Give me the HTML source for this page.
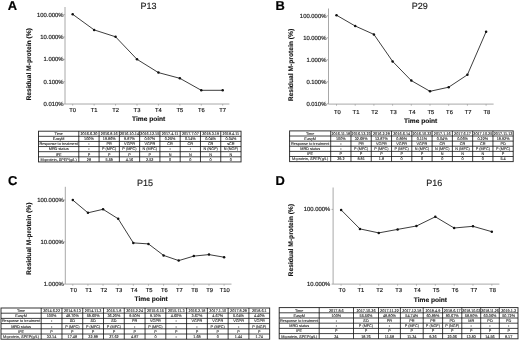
<!DOCTYPE html><html><head><meta charset="utf-8"><title>Residual M-protein</title><style>
html,body{margin:0;padding:0;background:#fff;width:520px;height:340px;overflow:hidden}
svg{display:block}
text{font-family:'Liberation Sans', Arial, sans-serif;fill:#1a1a1a;text-rendering:geometricPrecision}
.lt{font-size:12.9px;font-weight:bold;fill:#000;stroke:#000;stroke-width:0.2px}
.ti{font-size:9px;fill:#1a1a1a;stroke:#1a1a1a;stroke-width:0.15px}
.ax{stroke:#a8a8a8;stroke-width:1;fill:none}
.yt{font-size:5.9px;text-anchor:end;fill:#222;stroke:#222;stroke-width:0.18px}
.xt{font-size:5.8px;text-anchor:middle;fill:#111;stroke:#111;stroke-width:0.15px}
.dl{stroke:#333;stroke-width:0.95;fill:none;stroke-linejoin:round}
.dot{fill:#111}
.tp{font-size:6.6px;font-weight:bold;text-anchor:middle;fill:#111;stroke:#111;stroke-width:0.12px}
.yl{font-size:6.7px;font-weight:bold;text-anchor:middle;fill:#111;stroke:#111;stroke-width:0.12px}
.tb{fill:#fff;stroke:#2a2a2a;stroke-width:0.95}
.tl{stroke:#111;stroke-width:0.8}
.td{font-size:3.8px;text-anchor:middle;fill:#1a1a1a;stroke:#1a1a1a;stroke-width:0.08px}
</style></head><body>
<svg width="520" height="340" viewBox="0 0 520 340">
<text x="7.7" y="10.2" class="lt">A</text>
<text x="140.6" y="9.3" class="ti">P13</text>
<line x1="65.0" y1="7" x2="65.0" y2="104" class="ax"/>
<line x1="65.0" y1="104" x2="229.4" y2="104" class="ax"/>
<line x1="63.5" y1="14.6" x2="65.0" y2="14.6" class="ax"/>
<text x="63.50" y="16.70" class="yt">100.000%</text>
<line x1="63.5" y1="36.95" x2="65.0" y2="36.95" class="ax"/>
<text x="63.50" y="39.05" class="yt">10.000%</text>
<line x1="63.5" y1="59.300000000000004" x2="65.0" y2="59.300000000000004" class="ax"/>
<text x="63.50" y="61.40" class="yt">1.000%</text>
<line x1="63.5" y1="81.65" x2="65.0" y2="81.65" class="ax"/>
<text x="63.50" y="83.75" class="yt">0.100%</text>
<line x1="63.5" y1="104.0" x2="65.0" y2="104.0" class="ax"/>
<text x="63.50" y="106.10" class="yt">0.010%</text>
<line x1="72.7" y1="104" x2="72.7" y2="105.5" class="ax"/>
<text x="72.70" y="112.00" class="xt">T0</text>
<line x1="94.13" y1="104" x2="94.13" y2="105.5" class="ax"/>
<text x="94.13" y="112.00" class="xt">T1</text>
<line x1="115.56" y1="104" x2="115.56" y2="105.5" class="ax"/>
<text x="115.56" y="112.00" class="xt">T2</text>
<line x1="136.99" y1="104" x2="136.99" y2="105.5" class="ax"/>
<text x="136.99" y="112.00" class="xt">T3</text>
<line x1="158.42000000000002" y1="104" x2="158.42000000000002" y2="105.5" class="ax"/>
<text x="158.42" y="112.00" class="xt">T4</text>
<line x1="179.85000000000002" y1="104" x2="179.85000000000002" y2="105.5" class="ax"/>
<text x="179.85" y="112.00" class="xt">T5</text>
<line x1="201.27999999999997" y1="104" x2="201.27999999999997" y2="105.5" class="ax"/>
<text x="201.28" y="112.00" class="xt">T6</text>
<line x1="222.70999999999998" y1="104" x2="222.70999999999998" y2="105.5" class="ax"/>
<text x="222.71" y="112.00" class="xt">T7</text>
<polyline points="72.70,14.30 94.13,29.90 115.56,36.80 136.99,59.30 158.42,72.60 179.85,78.30 201.28,90.30 222.71,90.30" class="dl"/>
<circle cx="72.70" cy="14.30" r="1.25" class="dot"/>
<circle cx="94.13" cy="29.90" r="1.25" class="dot"/>
<circle cx="115.56" cy="36.80" r="1.25" class="dot"/>
<circle cx="136.99" cy="59.30" r="1.25" class="dot"/>
<circle cx="158.42" cy="72.60" r="1.25" class="dot"/>
<circle cx="179.85" cy="78.30" r="1.25" class="dot"/>
<circle cx="201.28" cy="90.30" r="1.25" class="dot"/>
<circle cx="222.71" cy="90.30" r="1.25" class="dot"/>
<text x="148.7" y="121.2" class="tp">Time point</text>
<text transform="translate(30.6,64.4) rotate(-90)" x="0" y="0" class="yl">Residual M-protein (%)</text>
<text x="275.4" y="10.3" class="lt">B</text>
<text x="411.7" y="9.0" class="ti">P29</text>
<line x1="328.5" y1="8.5" x2="328.5" y2="104.1" class="ax"/>
<line x1="328.5" y1="104.1" x2="493.6" y2="104.1" class="ax"/>
<line x1="327.0" y1="15.8" x2="328.5" y2="15.8" class="ax"/>
<text x="326.40" y="18.30" class="yt">100.000%</text>
<line x1="327.0" y1="37.8" x2="328.5" y2="37.8" class="ax"/>
<text x="326.40" y="40.30" class="yt">10.000%</text>
<line x1="327.0" y1="59.8" x2="328.5" y2="59.8" class="ax"/>
<text x="326.40" y="62.30" class="yt">1.000%</text>
<line x1="327.0" y1="81.8" x2="328.5" y2="81.8" class="ax"/>
<text x="326.40" y="84.30" class="yt">0.100%</text>
<line x1="327.0" y1="103.8" x2="328.5" y2="103.8" class="ax"/>
<text x="326.40" y="106.30" class="yt">0.010%</text>
<line x1="336.5" y1="104.1" x2="336.5" y2="105.6" class="ax"/>
<text x="337.30" y="113.80" class="xt">T0</text>
<line x1="355.2" y1="104.1" x2="355.2" y2="105.6" class="ax"/>
<text x="356.00" y="113.80" class="xt">T1</text>
<line x1="373.9" y1="104.1" x2="373.9" y2="105.6" class="ax"/>
<text x="374.70" y="113.80" class="xt">T2</text>
<line x1="392.6" y1="104.1" x2="392.6" y2="105.6" class="ax"/>
<text x="393.40" y="113.80" class="xt">T3</text>
<line x1="411.3" y1="104.1" x2="411.3" y2="105.6" class="ax"/>
<text x="412.10" y="113.80" class="xt">T4</text>
<line x1="430.0" y1="104.1" x2="430.0" y2="105.6" class="ax"/>
<text x="430.80" y="113.80" class="xt">T5</text>
<line x1="448.7" y1="104.1" x2="448.7" y2="105.6" class="ax"/>
<text x="449.50" y="113.80" class="xt">T6</text>
<line x1="467.4" y1="104.1" x2="467.4" y2="105.6" class="ax"/>
<text x="468.20" y="113.80" class="xt">T7</text>
<line x1="486.1" y1="104.1" x2="486.1" y2="105.6" class="ax"/>
<text x="486.90" y="113.80" class="xt">T8</text>
<polyline points="336.50,15.20 355.20,26.00 373.90,34.40 392.60,61.40 411.30,80.60 430.00,91.30 448.70,87.20 467.40,74.80 486.10,31.70" class="dl"/>
<circle cx="336.50" cy="15.20" r="1.25" class="dot"/>
<circle cx="355.20" cy="26.00" r="1.25" class="dot"/>
<circle cx="373.90" cy="34.40" r="1.25" class="dot"/>
<circle cx="392.60" cy="61.40" r="1.25" class="dot"/>
<circle cx="411.30" cy="80.60" r="1.25" class="dot"/>
<circle cx="430.00" cy="91.30" r="1.25" class="dot"/>
<circle cx="448.70" cy="87.20" r="1.25" class="dot"/>
<circle cx="467.40" cy="74.80" r="1.25" class="dot"/>
<circle cx="486.10" cy="31.70" r="1.25" class="dot"/>
<text x="420.7" y="123.0" class="tp">Time point</text>
<text transform="translate(292.8,65.1) rotate(-90)" x="0" y="0" class="yl">Residual M-protein (%)</text>
<text x="7.9" y="184.6" class="lt">C</text>
<text x="136.9" y="185.9" class="ti">P15</text>
<line x1="65.3" y1="186.8" x2="65.3" y2="284.1" class="ax"/>
<line x1="65.3" y1="284.1" x2="231.5" y2="284.1" class="ax"/>
<line x1="63.8" y1="200.0" x2="65.3" y2="200.0" class="ax"/>
<text x="63.70" y="202.00" class="yt">100.000%</text>
<line x1="63.8" y1="241.9" x2="65.3" y2="241.9" class="ax"/>
<text x="63.70" y="243.90" class="yt">10.000%</text>
<line x1="63.8" y1="284.1" x2="65.3" y2="284.1" class="ax"/>
<text x="63.70" y="286.10" class="yt">1.000%</text>
<line x1="72.8" y1="284.1" x2="72.8" y2="285.6" class="ax"/>
<text x="73.50" y="292.10" class="xt">T0</text>
<line x1="87.92999999999999" y1="284.1" x2="87.92999999999999" y2="285.6" class="ax"/>
<text x="88.63" y="292.10" class="xt">T1</text>
<line x1="103.06" y1="284.1" x2="103.06" y2="285.6" class="ax"/>
<text x="103.76" y="292.10" class="xt">T2</text>
<line x1="118.19" y1="284.1" x2="118.19" y2="285.6" class="ax"/>
<text x="118.89" y="292.10" class="xt">T3</text>
<line x1="133.32" y1="284.1" x2="133.32" y2="285.6" class="ax"/>
<text x="134.02" y="292.10" class="xt">T4</text>
<line x1="148.45" y1="284.1" x2="148.45" y2="285.6" class="ax"/>
<text x="149.15" y="292.10" class="xt">T5</text>
<line x1="163.57999999999998" y1="284.1" x2="163.57999999999998" y2="285.6" class="ax"/>
<text x="164.28" y="292.10" class="xt">T6</text>
<line x1="178.71" y1="284.1" x2="178.71" y2="285.6" class="ax"/>
<text x="179.41" y="292.10" class="xt">T7</text>
<line x1="193.84" y1="284.1" x2="193.84" y2="285.6" class="ax"/>
<text x="194.54" y="292.10" class="xt">T8</text>
<line x1="208.97000000000003" y1="284.1" x2="208.97000000000003" y2="285.6" class="ax"/>
<text x="209.67" y="292.10" class="xt">T9</text>
<line x1="224.10000000000002" y1="284.1" x2="224.10000000000002" y2="285.6" class="ax"/>
<text x="224.80" y="292.10" class="xt">T10</text>
<polyline points="72.80,200.10 87.93,212.80 103.06,209.30 118.19,218.80 133.32,242.90 148.45,243.90 163.58,255.40 178.71,260.60 193.84,256.10 208.97,254.60 224.10,257.20" class="dl"/>
<circle cx="72.80" cy="200.10" r="1.25" class="dot"/>
<circle cx="87.93" cy="212.80" r="1.25" class="dot"/>
<circle cx="103.06" cy="209.30" r="1.25" class="dot"/>
<circle cx="118.19" cy="218.80" r="1.25" class="dot"/>
<circle cx="133.32" cy="242.90" r="1.25" class="dot"/>
<circle cx="148.45" cy="243.90" r="1.25" class="dot"/>
<circle cx="163.58" cy="255.40" r="1.25" class="dot"/>
<circle cx="178.71" cy="260.60" r="1.25" class="dot"/>
<circle cx="193.84" cy="256.10" r="1.25" class="dot"/>
<circle cx="208.97" cy="254.60" r="1.25" class="dot"/>
<circle cx="224.10" cy="257.20" r="1.25" class="dot"/>
<text x="151.2" y="300.5" class="tp">Time point</text>
<text transform="translate(31.1,238.7) rotate(-90)" x="0" y="0" class="yl">Residual M-protein (%)</text>
<text x="275.4" y="184.9" class="lt">D</text>
<text x="426.3" y="185.9" class="ti">P16</text>
<line x1="333.1" y1="187.5" x2="333.1" y2="284.1" class="ax"/>
<line x1="333.1" y1="284.1" x2="499.4" y2="284.1" class="ax"/>
<line x1="331.6" y1="209.4" x2="333.1" y2="209.4" class="ax"/>
<text x="330.30" y="211.45" class="yt">100.000%</text>
<line x1="331.6" y1="284.1" x2="333.1" y2="284.1" class="ax"/>
<text x="330.30" y="286.15" class="yt">10.000%</text>
<line x1="341.1" y1="284.1" x2="341.1" y2="285.6" class="ax"/>
<text x="342.00" y="292.40" class="xt">T0</text>
<line x1="359.94" y1="284.1" x2="359.94" y2="285.6" class="ax"/>
<text x="360.84" y="292.40" class="xt">T1</text>
<line x1="378.78000000000003" y1="284.1" x2="378.78000000000003" y2="285.6" class="ax"/>
<text x="379.68" y="292.40" class="xt">T2</text>
<line x1="397.62" y1="284.1" x2="397.62" y2="285.6" class="ax"/>
<text x="398.52" y="292.40" class="xt">T3</text>
<line x1="416.46000000000004" y1="284.1" x2="416.46000000000004" y2="285.6" class="ax"/>
<text x="417.36" y="292.40" class="xt">T4</text>
<line x1="435.3" y1="284.1" x2="435.3" y2="285.6" class="ax"/>
<text x="436.20" y="292.40" class="xt">T5</text>
<line x1="454.14" y1="284.1" x2="454.14" y2="285.6" class="ax"/>
<text x="455.04" y="292.40" class="xt">T6</text>
<line x1="472.98" y1="284.1" x2="472.98" y2="285.6" class="ax"/>
<text x="473.88" y="292.40" class="xt">T7</text>
<line x1="491.82000000000005" y1="284.1" x2="491.82000000000005" y2="285.6" class="ax"/>
<text x="492.72" y="292.40" class="xt">T8</text>
<polyline points="341.10,209.90 359.94,228.90 378.78,232.90 397.62,229.40 416.46,226.00 435.30,216.80 454.14,228.00 472.98,226.30 491.82,231.70" class="dl"/>
<circle cx="341.10" cy="209.90" r="1.25" class="dot"/>
<circle cx="359.94" cy="228.90" r="1.25" class="dot"/>
<circle cx="378.78" cy="232.90" r="1.25" class="dot"/>
<circle cx="397.62" cy="229.40" r="1.25" class="dot"/>
<circle cx="416.46" cy="226.00" r="1.25" class="dot"/>
<circle cx="435.30" cy="216.80" r="1.25" class="dot"/>
<circle cx="454.14" cy="228.00" r="1.25" class="dot"/>
<circle cx="472.98" cy="226.30" r="1.25" class="dot"/>
<circle cx="491.82" cy="231.70" r="1.25" class="dot"/>
<text x="430.4" y="301.5" class="tp">Time point</text>
<text transform="translate(293.4,240.2) rotate(-90)" x="0" y="0" class="yl">Residual M-protein (%)</text>
<rect x="38.5" y="131.2" width="202.54000000000002" height="30.72" class="tb"/>
<line x1="38.5" y1="136.32" x2="241.04000000000002" y2="136.32" class="tl"/>
<line x1="38.5" y1="141.44" x2="241.04000000000002" y2="141.44" class="tl"/>
<line x1="38.5" y1="146.56" x2="241.04000000000002" y2="146.56" class="tl"/>
<line x1="38.5" y1="151.68" x2="241.04000000000002" y2="151.68" class="tl"/>
<line x1="38.5" y1="156.80" x2="241.04000000000002" y2="156.80" class="tl"/>
<line x1="78.80" y1="131.2" x2="78.80" y2="161.92" class="tl"/>
<line x1="99.08" y1="131.2" x2="99.08" y2="161.92" class="tl"/>
<line x1="119.36" y1="131.2" x2="119.36" y2="161.92" class="tl"/>
<line x1="139.64" y1="131.2" x2="139.64" y2="161.92" class="tl"/>
<line x1="159.92" y1="131.2" x2="159.92" y2="161.92" class="tl"/>
<line x1="180.20" y1="131.2" x2="180.20" y2="161.92" class="tl"/>
<line x1="200.48" y1="131.2" x2="200.48" y2="161.92" class="tl"/>
<line x1="220.76" y1="131.2" x2="220.76" y2="161.92" class="tl"/>
<text x="58.65" y="135.06" class="td">Time</text>
<text x="88.94" y="135.06" class="td">2016.6.20</text>
<text x="109.22" y="135.06" class="td">2016.8.16</text>
<text x="129.50" y="135.06" class="td">2016.10.14</text>
<text x="149.78" y="135.06" class="td">2016.12.15</text>
<text x="170.06" y="135.06" class="td">2017.4.11</text>
<text x="190.34" y="135.06" class="td">2017.7.07</text>
<text x="210.62" y="135.06" class="td">2018.3.19</text>
<text x="230.90" y="135.06" class="td">2018.4.11</text>
<text x="58.65" y="140.18" class="td">EasyM</text>
<text x="88.94" y="140.18" class="td">100%</text>
<text x="109.22" y="140.18" class="td">19.86%</text>
<text x="129.50" y="140.18" class="td">9.87%</text>
<text x="149.78" y="140.18" class="td">0.97%</text>
<text x="170.06" y="140.18" class="td">0.25%</text>
<text x="190.34" y="140.18" class="td">0.14%</text>
<text x="210.62" y="140.18" class="td">0.04%</text>
<text x="230.90" y="140.18" class="td">0.04%</text>
<text x="58.65" y="145.30" class="td">Response to treatment</text>
<text x="88.94" y="145.30" class="td">-</text>
<text x="109.22" y="145.30" class="td">PR</text>
<text x="129.50" y="145.30" class="td">VGPR</text>
<text x="149.78" y="145.30" class="td">VGPR</text>
<text x="170.06" y="145.30" class="td">CR</text>
<text x="190.34" y="145.30" class="td">CR</text>
<text x="210.62" y="145.30" class="td">CR</text>
<text x="230.90" y="145.30" class="td">sCR</text>
<text x="58.65" y="150.42" class="td">MRD status</text>
<text x="88.94" y="150.42" class="td">-</text>
<text x="109.22" y="150.42" class="td">P (MFC)</text>
<text x="129.50" y="150.42" class="td">P (MFC)</text>
<text x="149.78" y="150.42" class="td">N (MFC)</text>
<text x="170.06" y="150.42" class="td">-</text>
<text x="190.34" y="150.42" class="td">-</text>
<text x="210.62" y="150.42" class="td">N (NGF)</text>
<text x="230.90" y="150.42" class="td">N (NGF)</text>
<text x="58.65" y="155.54" class="td">IFE</text>
<text x="88.94" y="155.54" class="td">P</text>
<text x="109.22" y="155.54" class="td">P</text>
<text x="129.50" y="155.54" class="td">P</text>
<text x="149.78" y="155.54" class="td">P</text>
<text x="170.06" y="155.54" class="td">N</text>
<text x="190.34" y="155.54" class="td">N</text>
<text x="210.62" y="155.54" class="td">N</text>
<text x="230.90" y="155.54" class="td">N</text>
<text x="58.65" y="160.66" class="td">M-protein, SPEP(g/L)</text>
<text x="88.94" y="160.66" class="td">28</text>
<text x="109.22" y="160.66" class="td">5.59</text>
<text x="129.50" y="160.66" class="td">4.16</text>
<text x="149.78" y="160.66" class="td">2.52</text>
<text x="170.06" y="160.66" class="td">0</text>
<text x="190.34" y="160.66" class="td">0</text>
<text x="210.62" y="160.66" class="td">0</text>
<text x="230.90" y="160.66" class="td">0</text>
<rect x="289.6" y="130.9" width="223.62" height="30.72" class="tb"/>
<line x1="289.6" y1="136.02" x2="513.22" y2="136.02" class="tl"/>
<line x1="289.6" y1="141.14" x2="513.22" y2="141.14" class="tl"/>
<line x1="289.6" y1="146.26" x2="513.22" y2="146.26" class="tl"/>
<line x1="289.6" y1="151.38" x2="513.22" y2="151.38" class="tl"/>
<line x1="289.6" y1="156.50" x2="513.22" y2="156.50" class="tl"/>
<line x1="330.70" y1="130.9" x2="330.70" y2="161.62" class="tl"/>
<line x1="350.98" y1="130.9" x2="350.98" y2="161.62" class="tl"/>
<line x1="371.26" y1="130.9" x2="371.26" y2="161.62" class="tl"/>
<line x1="391.54" y1="130.9" x2="391.54" y2="161.62" class="tl"/>
<line x1="411.82" y1="130.9" x2="411.82" y2="161.62" class="tl"/>
<line x1="432.10" y1="130.9" x2="432.10" y2="161.62" class="tl"/>
<line x1="452.38" y1="130.9" x2="452.38" y2="161.62" class="tl"/>
<line x1="472.66" y1="130.9" x2="472.66" y2="161.62" class="tl"/>
<line x1="492.94" y1="130.9" x2="492.94" y2="161.62" class="tl"/>
<text x="310.15" y="134.76" class="td">Time</text>
<text x="340.84" y="134.76" class="td">2016.11.18</text>
<text x="361.12" y="134.76" class="td">2016.12.23</text>
<text x="381.40" y="134.76" class="td">2016.2.28</text>
<text x="401.68" y="134.76" class="td">2016.6.14</text>
<text x="421.96" y="134.76" class="td">2016.10.23</text>
<text x="442.24" y="134.76" class="td">2017.1.16</text>
<text x="462.52" y="134.76" class="td">2017.6.17</text>
<text x="482.80" y="134.76" class="td">2017.10.25</text>
<text x="503.08" y="134.76" class="td">2017.11.13</text>
<text x="310.15" y="139.88" class="td">EasyM</text>
<text x="340.84" y="139.88" class="td">100%</text>
<text x="361.12" y="139.88" class="td">32.69%</text>
<text x="381.40" y="139.88" class="td">13.87%</text>
<text x="401.68" y="139.88" class="td">0.89%</text>
<text x="421.96" y="139.88" class="td">0.11%</text>
<text x="442.24" y="139.88" class="td">0.04%</text>
<text x="462.52" y="139.88" class="td">0.06%</text>
<text x="482.80" y="139.88" class="td">0.22%</text>
<text x="503.08" y="139.88" class="td">18.92%</text>
<text x="310.15" y="145.00" class="td">Response to treatment</text>
<text x="340.84" y="145.00" class="td">-</text>
<text x="361.12" y="145.00" class="td">PR</text>
<text x="381.40" y="145.00" class="td">VGPR</text>
<text x="401.68" y="145.00" class="td">VGPR</text>
<text x="421.96" y="145.00" class="td">VGPR</text>
<text x="442.24" y="145.00" class="td">CR</text>
<text x="462.52" y="145.00" class="td">CR</text>
<text x="482.80" y="145.00" class="td">CR</text>
<text x="503.08" y="145.00" class="td">PD</text>
<text x="310.15" y="150.12" class="td">MRD status</text>
<text x="340.84" y="150.12" class="td">-</text>
<text x="361.12" y="150.12" class="td">P (MFC)</text>
<text x="381.40" y="150.12" class="td">P (MFC)</text>
<text x="401.68" y="150.12" class="td">P (MFC)</text>
<text x="421.96" y="150.12" class="td">N (MFC)</text>
<text x="442.24" y="150.12" class="td">N (MFC)</text>
<text x="462.52" y="150.12" class="td">N (MFC)</text>
<text x="482.80" y="150.12" class="td">P (MFC)</text>
<text x="503.08" y="150.12" class="td">P (MFC)</text>
<text x="310.15" y="155.24" class="td">IFE</text>
<text x="340.84" y="155.24" class="td">P</text>
<text x="361.12" y="155.24" class="td">P</text>
<text x="381.40" y="155.24" class="td">P</text>
<text x="401.68" y="155.24" class="td">P</text>
<text x="421.96" y="155.24" class="td">P</text>
<text x="442.24" y="155.24" class="td">N</text>
<text x="462.52" y="155.24" class="td">N</text>
<text x="482.80" y="155.24" class="td">N</text>
<text x="503.08" y="155.24" class="td">P</text>
<text x="310.15" y="160.36" class="td">M-protein, SPEP(g/L)</text>
<text x="340.84" y="160.36" class="td">29.2</text>
<text x="361.12" y="160.36" class="td">8.81</text>
<text x="381.40" y="160.36" class="td">1.8</text>
<text x="401.68" y="160.36" class="td">0</text>
<text x="421.96" y="160.36" class="td">0</text>
<text x="442.24" y="160.36" class="td">0</text>
<text x="462.52" y="160.36" class="td">0</text>
<text x="482.80" y="160.36" class="td">0</text>
<text x="503.08" y="160.36" class="td">5.4</text>
<rect x="1.0" y="308.0" width="268.67" height="31.19999999999999" class="tb"/>
<line x1="1.0" y1="313.20" x2="269.67" y2="313.20" class="tl"/>
<line x1="1.0" y1="318.40" x2="269.67" y2="318.40" class="tl"/>
<line x1="1.0" y1="323.60" x2="269.67" y2="323.60" class="tl"/>
<line x1="1.0" y1="328.80" x2="269.67" y2="328.80" class="tl"/>
<line x1="1.0" y1="334.00" x2="269.67" y2="334.00" class="tl"/>
<line x1="41.20" y1="308.0" x2="41.20" y2="339.20" class="tl"/>
<line x1="61.97" y1="308.0" x2="61.97" y2="339.20" class="tl"/>
<line x1="82.74" y1="308.0" x2="82.74" y2="339.20" class="tl"/>
<line x1="103.51" y1="308.0" x2="103.51" y2="339.20" class="tl"/>
<line x1="124.28" y1="308.0" x2="124.28" y2="339.20" class="tl"/>
<line x1="145.05" y1="308.0" x2="145.05" y2="339.20" class="tl"/>
<line x1="165.82" y1="308.0" x2="165.82" y2="339.20" class="tl"/>
<line x1="186.59" y1="308.0" x2="186.59" y2="339.20" class="tl"/>
<line x1="207.36" y1="308.0" x2="207.36" y2="339.20" class="tl"/>
<line x1="228.13" y1="308.0" x2="228.13" y2="339.20" class="tl"/>
<line x1="248.90" y1="308.0" x2="248.90" y2="339.20" class="tl"/>
<text x="21.10" y="311.90" class="td">Time</text>
<text x="51.59" y="311.90" class="td">2014.6.22</text>
<text x="72.36" y="311.90" class="td">2014.8.13</text>
<text x="93.12" y="311.90" class="td">2014.11.3</text>
<text x="113.90" y="311.90" class="td">2015.1.8</text>
<text x="134.67" y="311.90" class="td">2015.2.24</text>
<text x="155.44" y="311.90" class="td">2015.6.15</text>
<text x="176.20" y="311.90" class="td">2015.11.3</text>
<text x="196.97" y="311.90" class="td">2016.2.18</text>
<text x="217.75" y="311.90" class="td">2017.1.10</text>
<text x="238.51" y="311.90" class="td">2017.8.28</text>
<text x="259.28" y="311.90" class="td">2018.6.1</text>
<text x="21.10" y="317.10" class="td">EasyM</text>
<text x="51.59" y="317.10" class="td">100%</text>
<text x="72.36" y="317.10" class="td">48.70%</text>
<text x="93.12" y="317.10" class="td">59.60%</text>
<text x="113.90" y="317.10" class="td">36.20%</text>
<text x="134.67" y="317.10" class="td">9.50%</text>
<text x="155.44" y="317.10" class="td">9.10%</text>
<text x="176.20" y="317.10" class="td">4.60%</text>
<text x="196.97" y="317.10" class="td">3.67%</text>
<text x="217.75" y="317.10" class="td">4.67%</text>
<text x="238.51" y="317.10" class="td">5.04%</text>
<text x="259.28" y="317.10" class="td">4.40%</text>
<text x="21.10" y="322.30" class="td">Response to treatment</text>
<text x="51.59" y="322.30" class="td">-</text>
<text x="72.36" y="322.30" class="td">SD</text>
<text x="93.12" y="322.30" class="td">SD</text>
<text x="113.90" y="322.30" class="td">SD</text>
<text x="134.67" y="322.30" class="td">PR</text>
<text x="155.44" y="322.30" class="td">VGPR</text>
<text x="176.20" y="322.30" class="td">-</text>
<text x="196.97" y="322.30" class="td">VGPR</text>
<text x="217.75" y="322.30" class="td">VGPR</text>
<text x="238.51" y="322.30" class="td">VGPR</text>
<text x="259.28" y="322.30" class="td">VGPR</text>
<text x="21.10" y="327.50" class="td">MRD status</text>
<text x="51.59" y="327.50" class="td">-</text>
<text x="72.36" y="327.50" class="td">P (MFC)</text>
<text x="93.12" y="327.50" class="td">P (MFC)</text>
<text x="113.90" y="327.50" class="td">P (MFC)</text>
<text x="134.67" y="327.50" class="td">-</text>
<text x="155.44" y="327.50" class="td">P (MFC)</text>
<text x="176.20" y="327.50" class="td">-</text>
<text x="196.97" y="327.50" class="td">-</text>
<text x="217.75" y="327.50" class="td">P (MFC)</text>
<text x="238.51" y="327.50" class="td">-</text>
<text x="259.28" y="327.50" class="td">P (NGF)</text>
<text x="21.10" y="332.70" class="td">IFE</text>
<text x="51.59" y="332.70" class="td">P</text>
<text x="72.36" y="332.70" class="td">P</text>
<text x="93.12" y="332.70" class="td">P</text>
<text x="113.90" y="332.70" class="td">P</text>
<text x="134.67" y="332.70" class="td">P</text>
<text x="155.44" y="332.70" class="td">P</text>
<text x="176.20" y="332.70" class="td">P</text>
<text x="196.97" y="332.70" class="td">P</text>
<text x="217.75" y="332.70" class="td">P</text>
<text x="238.51" y="332.70" class="td">P</text>
<text x="259.28" y="332.70" class="td">P</text>
<text x="21.10" y="337.90" class="td">M-protein, SPEP(g/L)</text>
<text x="51.59" y="337.90" class="td">33.14</text>
<text x="72.36" y="337.90" class="td">17.48</text>
<text x="93.12" y="337.90" class="td">32.88</text>
<text x="113.90" y="337.90" class="td">27.62</text>
<text x="134.67" y="337.90" class="td">4.87</text>
<text x="155.44" y="337.90" class="td">0</text>
<text x="176.20" y="337.90" class="td">-</text>
<text x="196.97" y="337.90" class="td">1.68</text>
<text x="217.75" y="337.90" class="td">0</text>
<text x="238.51" y="337.90" class="td">1.44</text>
<text x="259.28" y="337.90" class="td">1.74</text>
<rect x="279.2" y="307.6" width="238.8" height="31.19999999999999" class="tb"/>
<line x1="279.2" y1="312.80" x2="518.0" y2="312.80" class="tl"/>
<line x1="279.2" y1="318.00" x2="518.0" y2="318.00" class="tl"/>
<line x1="279.2" y1="323.20" x2="518.0" y2="323.20" class="tl"/>
<line x1="279.2" y1="328.40" x2="518.0" y2="328.40" class="tl"/>
<line x1="279.2" y1="333.60" x2="518.0" y2="333.60" class="tl"/>
<line x1="319.20" y1="307.6" x2="319.20" y2="338.80" class="tl"/>
<line x1="353.50" y1="307.6" x2="353.50" y2="338.80" class="tl"/>
<line x1="378.50" y1="307.6" x2="378.50" y2="338.80" class="tl"/>
<line x1="400.40" y1="307.6" x2="400.40" y2="338.80" class="tl"/>
<line x1="423.20" y1="307.6" x2="423.20" y2="338.80" class="tl"/>
<line x1="442.60" y1="307.6" x2="442.60" y2="338.80" class="tl"/>
<line x1="461.80" y1="307.6" x2="461.80" y2="338.80" class="tl"/>
<line x1="480.70" y1="307.6" x2="480.70" y2="338.80" class="tl"/>
<line x1="499.30" y1="307.6" x2="499.30" y2="338.80" class="tl"/>
<text x="299.20" y="311.50" class="td">Time</text>
<text x="336.35" y="311.50" class="td">2017.8.6</text>
<text x="366.00" y="311.50" class="td">2017.10.26</text>
<text x="389.45" y="311.50" class="td">2017.11.22</text>
<text x="411.80" y="311.50" class="td">2017.12.18</text>
<text x="432.90" y="311.50" class="td">2018.4.9</text>
<text x="452.20" y="311.50" class="td">2018.6.17</text>
<text x="471.25" y="311.50" class="td" textLength="17.90" lengthAdjust="spacingAndGlyphs">2018.10.03</text>
<text x="490.00" y="311.50" class="td" textLength="17.60" lengthAdjust="spacingAndGlyphs">2018.11.26</text>
<text x="508.65" y="311.50" class="td">2019.1.3</text>
<text x="299.20" y="316.70" class="td">EasyM</text>
<text x="336.35" y="316.70" class="td">100%</text>
<text x="366.00" y="316.70" class="td">55.56%</text>
<text x="389.45" y="316.70" class="td">48.80%</text>
<text x="411.80" y="316.70" class="td">54.74%</text>
<text x="432.90" y="316.70" class="td">60.89%</text>
<text x="452.20" y="316.70" class="td">80.67%</text>
<text x="471.25" y="316.70" class="td">58.90%</text>
<text x="490.00" y="316.70" class="td">60.06%</text>
<text x="508.65" y="316.70" class="td">50.72%</text>
<text x="299.20" y="321.90" class="td">Response to treatment</text>
<text x="336.35" y="321.90" class="td">-</text>
<text x="366.00" y="321.90" class="td">SD</text>
<text x="389.45" y="321.90" class="td">PR</text>
<text x="411.80" y="321.90" class="td">PR</text>
<text x="432.90" y="321.90" class="td">PR</text>
<text x="452.20" y="321.90" class="td">PD</text>
<text x="471.25" y="321.90" class="td">MR</text>
<text x="490.00" y="321.90" class="td">PD</text>
<text x="508.65" y="321.90" class="td">PD</text>
<text x="299.20" y="327.10" class="td">MRD status</text>
<text x="336.35" y="327.10" class="td">-</text>
<text x="366.00" y="327.10" class="td">P (MFC)</text>
<text x="389.45" y="327.10" class="td">-</text>
<text x="411.80" y="327.10" class="td">P (MFC)</text>
<text x="432.90" y="327.10" class="td">P (NGF)</text>
<text x="452.20" y="327.10" class="td">P (NGF)</text>
<text x="471.25" y="327.10" class="td">-</text>
<text x="490.00" y="327.10" class="td">-</text>
<text x="508.65" y="327.10" class="td">-</text>
<text x="299.20" y="332.30" class="td">IFE</text>
<text x="336.35" y="332.30" class="td">P</text>
<text x="366.00" y="332.30" class="td">P</text>
<text x="389.45" y="332.30" class="td">P</text>
<text x="411.80" y="332.30" class="td">P</text>
<text x="432.90" y="332.30" class="td">P</text>
<text x="452.20" y="332.30" class="td">P</text>
<text x="471.25" y="332.30" class="td">P</text>
<text x="490.00" y="332.30" class="td">P</text>
<text x="508.65" y="332.30" class="td">P</text>
<text x="299.20" y="337.50" class="td">M-protein, SPEP(g/L)</text>
<text x="336.35" y="337.50" class="td">34</text>
<text x="366.00" y="337.50" class="td">18.76</text>
<text x="389.45" y="337.50" class="td">11.58</text>
<text x="411.80" y="337.50" class="td">11.34</text>
<text x="432.90" y="337.50" class="td">9.36</text>
<text x="452.20" y="337.50" class="td">23.06</text>
<text x="471.25" y="337.50" class="td">13.83</text>
<text x="490.00" y="337.50" class="td">14.56</text>
<text x="508.65" y="337.50" class="td">8.17</text>
</svg></body></html>
